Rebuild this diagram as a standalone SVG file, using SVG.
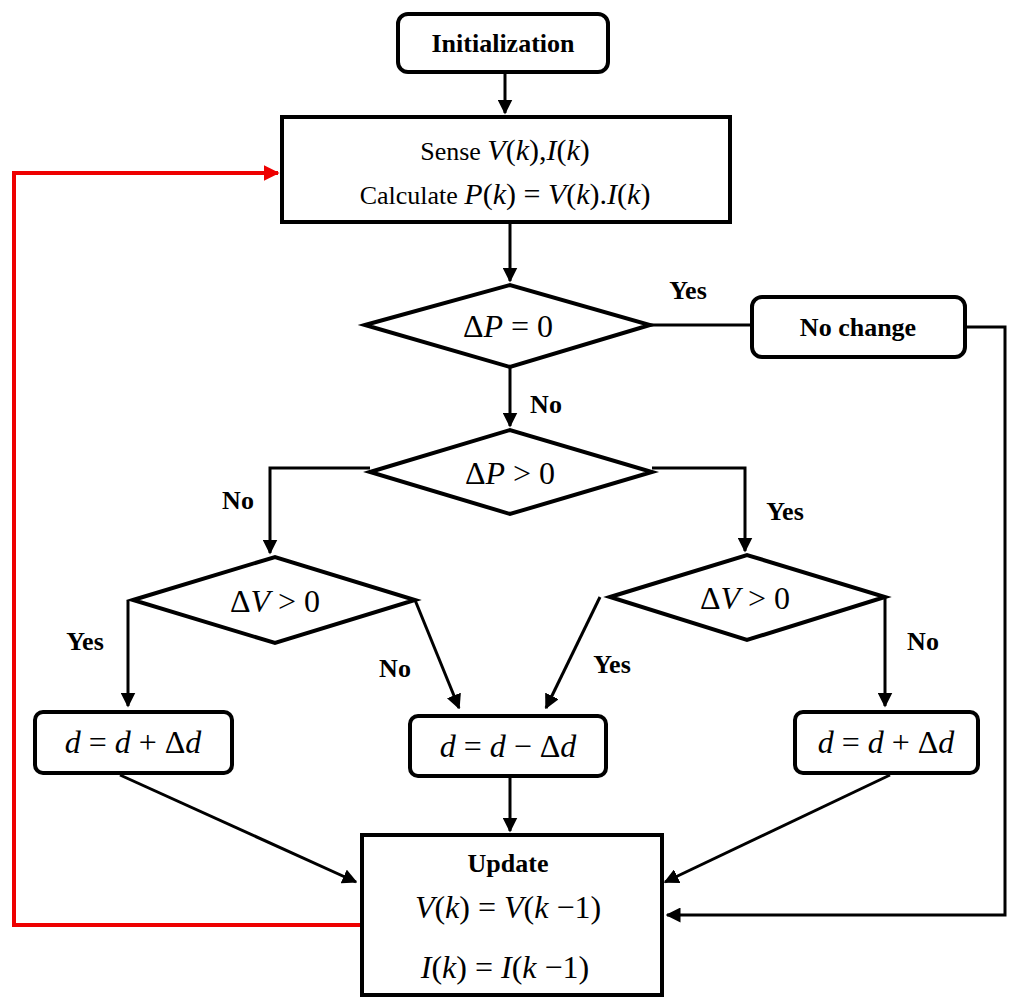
<svg xmlns="http://www.w3.org/2000/svg" width="1025" height="1007" viewBox="0 0 1025 1007">
<style>
.b{fill:#fff;stroke:#000;stroke-width:4}
.t{font-family:"Liberation Serif",serif;font-size:26px;fill:#000;text-anchor:middle}
.l{font-family:"Liberation Serif",serif;font-size:26px;font-weight:bold;fill:#000;text-anchor:middle}
.m{font-family:"Liberation Serif",serif;font-size:32px;fill:#000;text-anchor:middle}
.c{fill:none;stroke:#000;stroke-width:3}
</style>
<defs>
<marker id="a" viewBox="0 0 10 10" refX="9" refY="5" markerWidth="5" markerHeight="5" orient="auto"><path d="M0,0L10,5L0,10z" fill="#000"/></marker>
<marker id="r" viewBox="0 0 10 10" refX="9" refY="5" markerWidth="4" markerHeight="4" orient="auto"><path d="M0,0L10,5L0,10z" fill="#e00"/></marker>
</defs>
<rect width="1025" height="1007" fill="#fff"/>
<g id="connectors">
<path class="c" d="M505,72V113" marker-end="url(#a)"/>
<path class="c" d="M510,222V281" marker-end="url(#a)"/>
<path class="c" d="M650,325H752" stroke-width="5"/>
<path class="c" d="M965,327H1005V915H667" marker-end="url(#a)"/>
<path class="c" d="M510,367V426" marker-end="url(#a)"/>
<path class="c" d="M370,468H270V553" marker-end="url(#a)"/>
<path class="c" d="M652,468H745V551" marker-end="url(#a)"/>
<path class="c" d="M128,600V706" marker-end="url(#a)"/>
<path class="c" d="M415,600L459,708" marker-end="url(#a)"/>
<path class="c" d="M600,597L546,708" marker-end="url(#a)"/>
<path class="c" d="M885,597V706" marker-end="url(#a)"/>
<path class="c" d="M510,776V831" marker-end="url(#a)"/>
<path class="c" d="M120,775L356,882" marker-end="url(#a)"/>
<path class="c" d="M890,775L665,882" marker-end="url(#a)"/>
<path d="M362,925H14V173H278" fill="none" stroke="#e00" stroke-width="4" marker-end="url(#r)"/>
<text class="l" x="688" y="299">Yes</text>
<text class="l" x="546" y="413">No</text>
<text class="l" x="238" y="509">No</text>
<text class="l" x="785" y="520">Yes</text>
<text class="l" x="85" y="650">Yes</text>
<text class="l" x="395" y="677">No</text>
<text class="l" x="612" y="673">Yes</text>
<text class="l" x="923" y="650">No</text>
</g>
<g id="init"><rect class="b" x="398" y="14" width="210" height="58" rx="10"/><text class="l" x="503" y="52">Initialization</text></g>
<g id="sense"><rect class="b" x="282" y="117" width="448" height="105" stroke-width="5"/>
<text class="t" x="505" y="160">Sense <tspan font-style="italic" font-size="30">V</tspan><tspan font-size="30">(</tspan><tspan font-style="italic" font-size="30">k</tspan><tspan font-size="30">),</tspan><tspan font-style="italic" font-size="30">I</tspan><tspan font-size="30">(</tspan><tspan font-style="italic" font-size="30">k</tspan><tspan font-size="30">)</tspan></text>
<text class="t" x="505" y="204">Calculate <tspan font-style="italic" font-size="30">P</tspan><tspan font-size="30">(</tspan><tspan font-style="italic" font-size="30">k</tspan><tspan font-size="30">) = </tspan><tspan font-style="italic" font-size="30">V</tspan><tspan font-size="30">(</tspan><tspan font-style="italic" font-size="30">k</tspan><tspan font-size="30">).</tspan><tspan font-style="italic" font-size="30">I</tspan><tspan font-size="30">(</tspan><tspan font-style="italic" font-size="30">k</tspan><tspan font-size="30">)</tspan></text></g>
<g id="d1"><polygon class="b" points="365,325 510,285 650,325 510,367"/><text class="m" x="508" y="337">Δ<tspan font-style="italic">P</tspan> = 0</text></g>
<g id="nochange"><rect class="b" x="752" y="297" width="213" height="60" rx="10"/><text class="l" x="858" y="336">No change</text></g>
<g id="d2"><polygon class="b" points="370,472 510,430 652,472 510,514"/><text class="m" x="510" y="484">Δ<tspan font-style="italic">P</tspan> &gt; 0</text></g>
<g id="d3"><polygon class="b" points="133,600 275,557 415,600 275,643"/><text class="m" x="275" y="612">Δ<tspan font-style="italic">V</tspan> &gt; 0</text></g>
<g id="d4"><polygon class="b" points="610,597 747,555 885,597 747,640"/><text class="m" x="745" y="609">Δ<tspan font-style="italic">V</tspan> &gt; 0</text></g>
<g id="b1"><rect class="b" x="35" y="712" width="197" height="61" rx="8"/><text class="m" x="133" y="753"><tspan font-style="italic">d</tspan> = <tspan font-style="italic">d</tspan> + Δ<tspan font-style="italic">d</tspan></text></g>
<g id="b2"><rect class="b" x="410" y="716" width="196" height="60" rx="8"/><text class="m" x="508" y="757"><tspan font-style="italic">d</tspan> = <tspan font-style="italic">d</tspan> − Δ<tspan font-style="italic">d</tspan></text></g>
<g id="b3"><rect class="b" x="795" y="712" width="183" height="61" rx="8"/><text class="m" x="886" y="753"><tspan font-style="italic">d</tspan> = <tspan font-style="italic">d</tspan> + Δ<tspan font-style="italic">d</tspan></text></g>
<g id="update"><rect class="b" x="362" y="835" width="300" height="160" stroke-width="5"/>
<text class="l" x="508" y="872">Update</text>
<text class="m" x="508" y="918"><tspan font-style="italic">V</tspan>(<tspan font-style="italic">k</tspan>) = <tspan font-style="italic">V</tspan>(<tspan font-style="italic">k</tspan> −1)</text>
<text class="m" x="505" y="978"><tspan font-style="italic">I</tspan>(<tspan font-style="italic">k</tspan>) = <tspan font-style="italic">I</tspan>(<tspan font-style="italic">k</tspan> −1)</text></g>
</svg>
